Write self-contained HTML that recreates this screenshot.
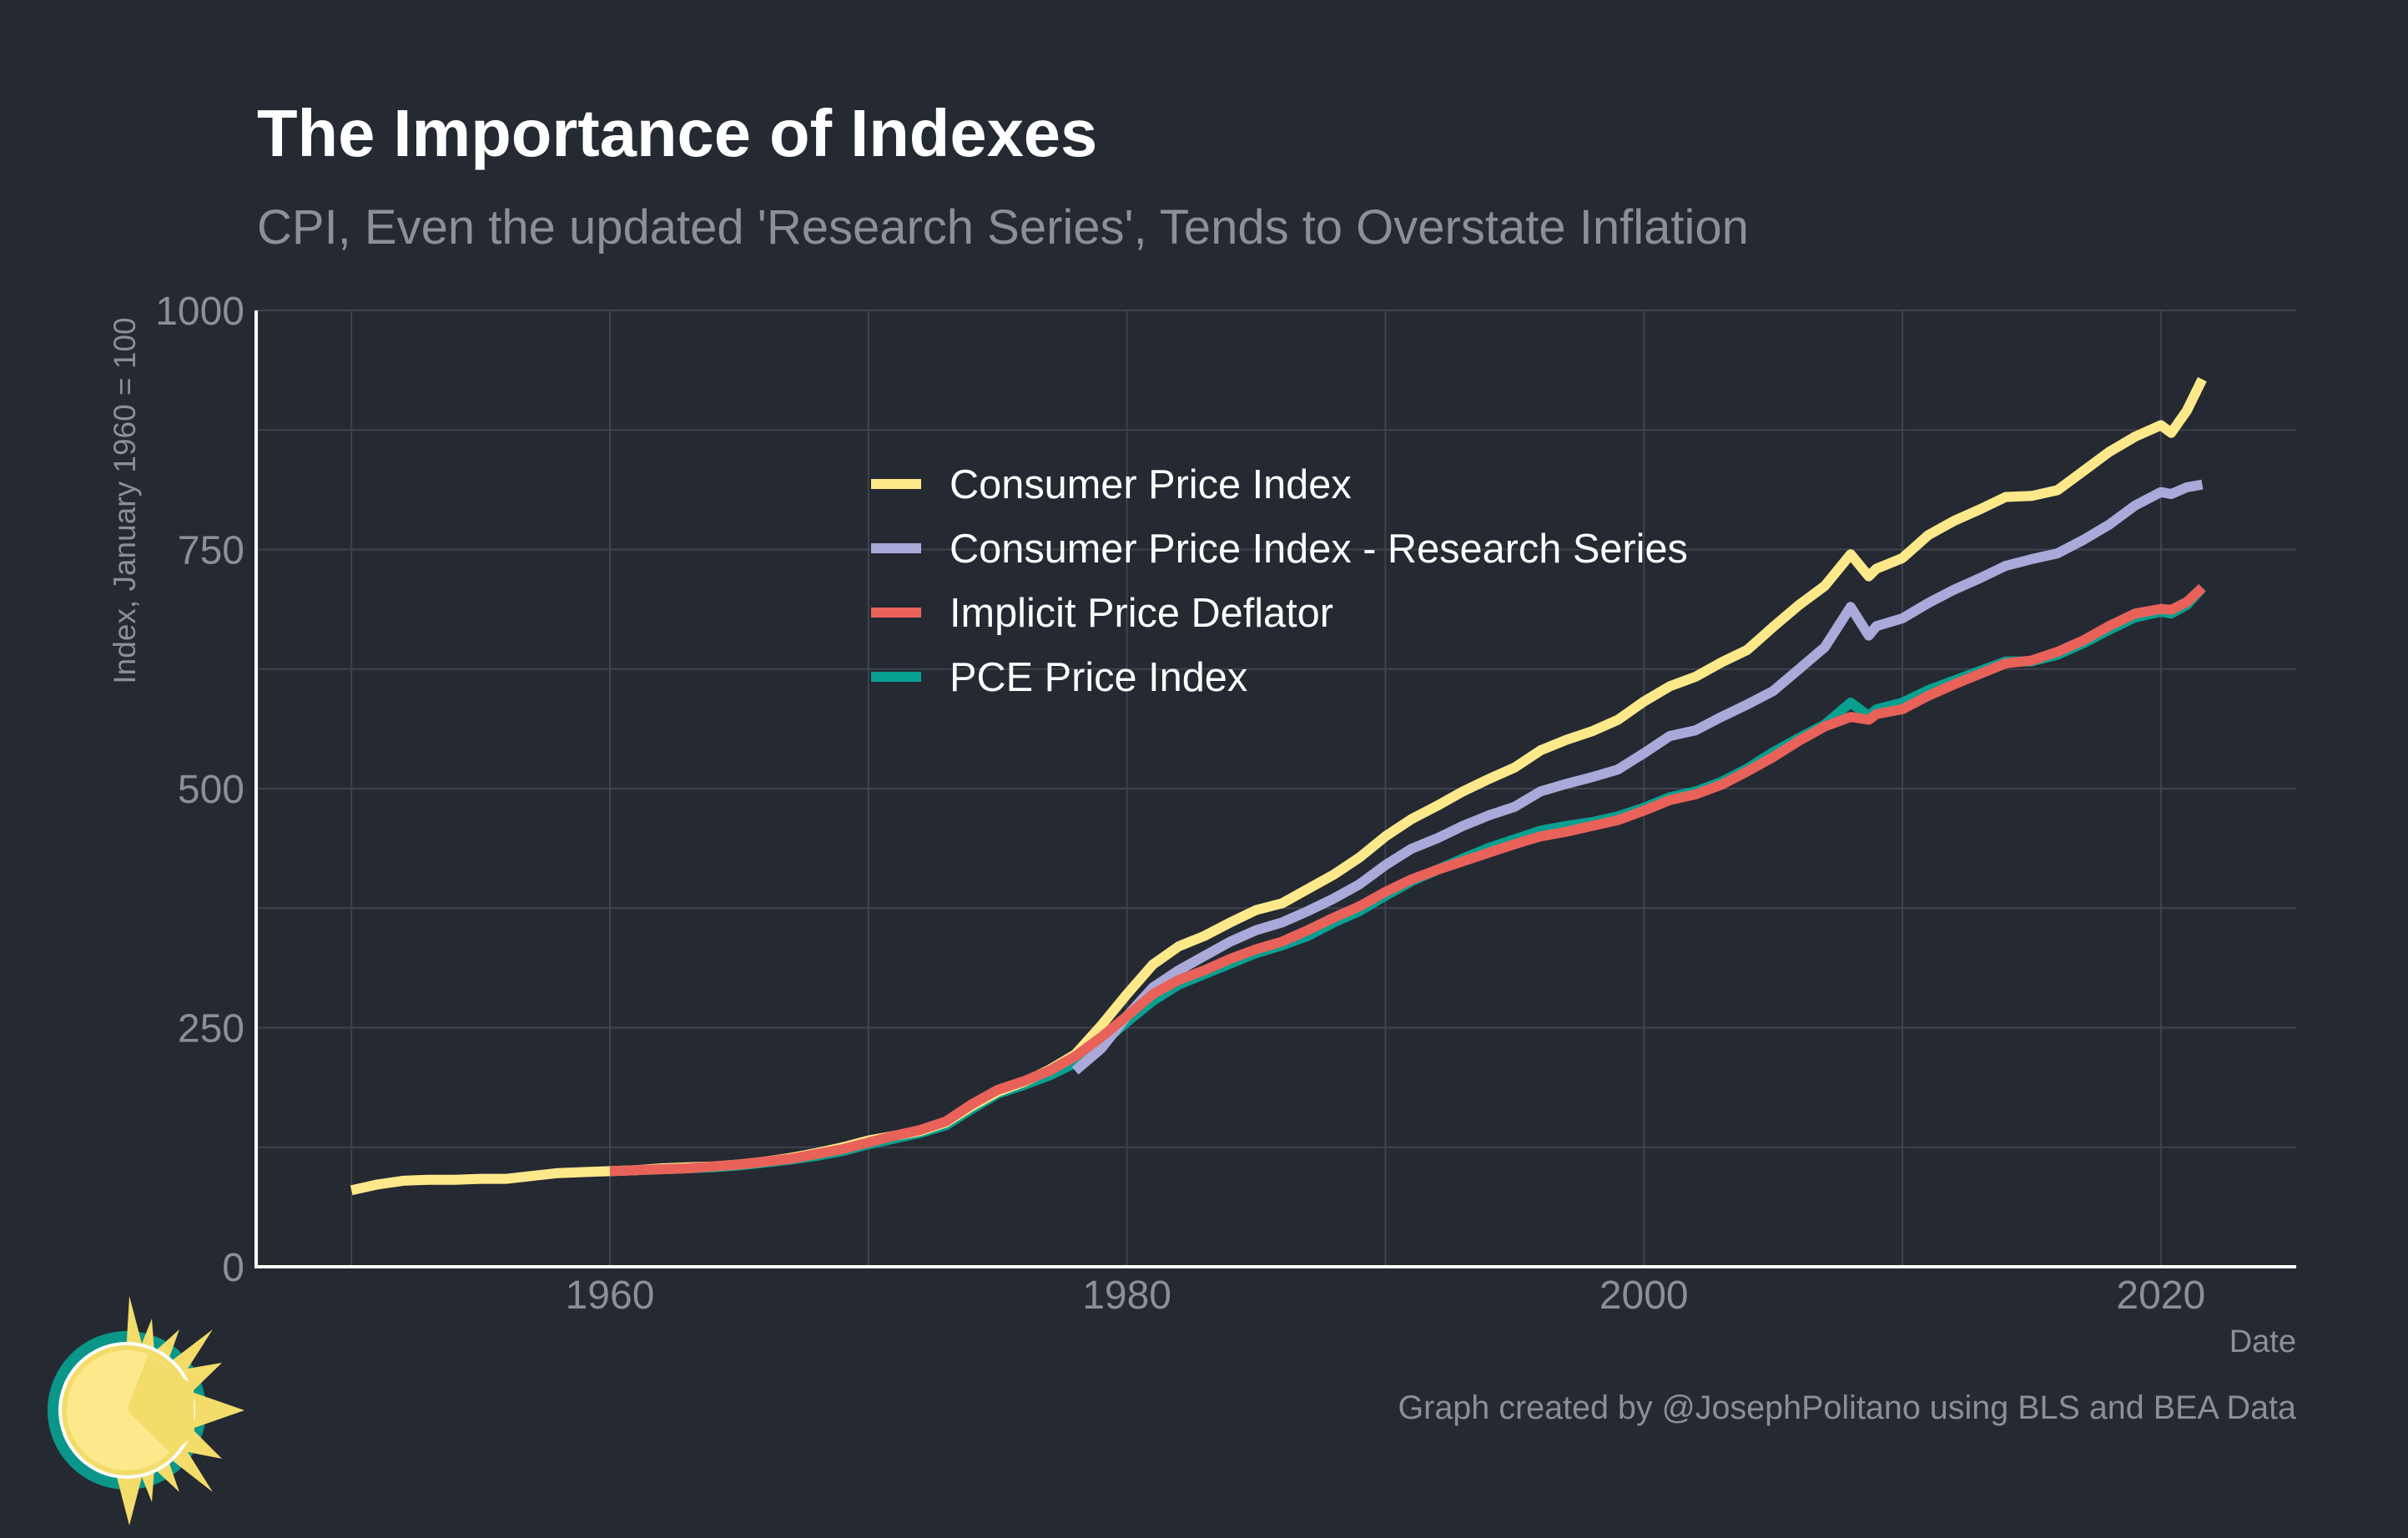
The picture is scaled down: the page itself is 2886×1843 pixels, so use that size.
<!DOCTYPE html>
<html><head><meta charset="utf-8"><style>
html,body{margin:0;padding:0;background:#252932;}
svg{display:block;font-family:"Liberation Sans",sans-serif;}
</style></head><body>
<svg width="2886" height="1843" viewBox="0 0 2886 1843" xmlns="http://www.w3.org/2000/svg">
<rect width="2886" height="1843" fill="#252932"/>
<text x="308" y="187" fill="#ffffff" font-size="79.5" font-weight="bold">The Importance of Indexes</text>
<text x="308" y="292" fill="#8d8f94" font-size="58">CPI, Even the updated 'Research Series', Tends to Overstate Inflation</text>
<g id="grid"></g>
<g id="series"></g>
<line x1="307" y1="372" x2="307" y2="1519" stroke="#fff" stroke-width="4"/>
<line x1="305" y1="1518" x2="2752" y2="1518" stroke="#fff" stroke-width="4"/>
<g id="yticks"></g>
<g id="xticks"></g>
<text x="162" y="600" fill="#8d8f94" font-size="37" text-anchor="middle" transform="rotate(-90 162 600)">Index, January 1960 = 100</text>
<text x="2752" y="1620" fill="#8d8f94" font-size="38" text-anchor="end">Date</text>
<text x="2752" y="1700" fill="#8d8f94" font-size="39.5" text-anchor="end">Graph created by @JosephPolitano using BLS and BEA Data</text>
<g id="legend"></g>
<g>
<circle cx="152" cy="1690" r="95" fill="#0a978a"/>
<polygon points="155,1553 170,1610 182,1580 185,1620 215,1593 200,1635 255,1593 225,1640 266,1633 230,1668 293,1690 230,1712 266,1748 225,1740 255,1788 200,1745 215,1788 185,1760 182,1800 170,1770 155,1828 140,1770 150,1640" fill="#f3dc6a"/>
<circle cx="152" cy="1690" r="82" fill="#fff"/>
<circle cx="152" cy="1690" r="78" fill="#f3dc6a"/>
<circle cx="152" cy="1690" r="72" fill="#fde88c"/>
<polygon points="152,1690 178,1622 232,1660 233,1720 205,1742" fill="#f3dc6a"/>
</g>
<script>
const years=[1950,1951,1952,1953,1954,1955,1956,1957,1958,1959,1960,1961,1962,1963,1964,1965,1966,1967,1968,1969,1970,1971,1972,1973,1974,1975,1976,1977,1978,1979,1980,1981,1982,1983,1984,1985,1986,1987,1988,1989,1990,1991,1992,1993,1994,1995,1996,1997,1998,1999,2000,2001,2002,2003,2004,2005,2006,2007,2008,2008.7,2009,2010,2011,2012,2013,2014,2015,2016,2017,2018,2019,2020,2020.4,2021,2021.6];
const cpi=[80,86,90,91,91,92,92,95,98,99,100,101,103,104,105,107,110,114,119,125,132,137,142,151,168,183,193,206,222,252,285,316,335,346,360,373,380,395,410,428,450,468,482,497,510,522,540,551,560,572,591,607,617,632,645,669,692,712,745,722,730,741,765,780,792,805,806,812,832,852,868,880,872,895,928];
const rs=[null,null,null,null,null,null,null,null,null,null,null,null,null,null,null,null,null,null,null,null,null,null,null,null,null,null,null,null,205,228,262,292,310,325,340,352,360,372,385,400,420,437,448,461,472,481,497,505,512,520,537,555,561,575,588,602,625,648,690,660,670,678,694,708,720,733,740,746,760,776,796,810,808,815,818];
const ipd=[null,null,null,null,null,null,null,null,null,null,100,101,102,103,105,107,110,113,118,123,130,137,143,152,170,185,194,205,220,240,262,285,300,310,322,332,340,352,365,377,392,405,415,424,433,442,450,455,461,467,477,488,494,504,518,533,550,565,575,572,578,583,597,609,620,631,634,643,655,670,683,688,687,695,710];
const pce=[null,null,null,null,null,null,null,null,null,null,100,101,102,103,104,106,109,112,116,121,128,134,140,148,165,181,190,200,213,233,256,278,295,306,317,328,336,346,360,372,388,403,415,427,438,447,456,461,465,471,480,491,497,507,521,538,553,567,590,576,583,590,603,613,623,633,633,640,652,666,679,685,683,692,710];
const yTickVals=[0,250,500,750,1000];
const yGridVals=[125,375,625,875];
const xTickVals=[1960,1980,2000,2020];
const xGridVals=[1950,1970,1990,2010];
const legendLabels=["Consumer Price Index","Consumer Price Index - Research Series","Implicit Price Deflator","PCE Price Index"];
const colors=["#fde98a","#a9aad9","#e8625a","#08a090"];
const NS="http://www.w3.org/2000/svg";
function xs(y){return 731+(y-1960)*30.98;}
function ys(v){return 1518-v*1.146;}
function mk(tag,attrs,parent){const e=document.createElementNS(NS,tag);for(const k in attrs)e.setAttribute(k,attrs[k]);parent.appendChild(e);return e;}
const grid=document.getElementById('grid');
yTickVals.concat(yGridVals).forEach(v=>{const l=mk('line',{x1:307,x2:2752,y1:ys(v),y2:ys(v),stroke:'#3e434d','stroke-width':2},grid);

});
xTickVals.concat(xGridVals).forEach(v=>{const l=mk('line',{x1:xs(v),x2:xs(v),y1:372,y2:1518,stroke:'#3e434d','stroke-width':2},grid);

});
const yt=document.getElementById('yticks');
yTickVals.forEach(v=>{const t=mk('text',{x:293,y:ys(v)+17,fill:'#8d8f94','font-size':48,'text-anchor':'end'},yt);t.textContent=v;

});
const xt=document.getElementById('xticks');
xTickVals.forEach(v=>{const t=mk('text',{x:xs(v),y:1568,fill:'#8d8f94','font-size':48,'text-anchor':'middle'},xt);t.textContent=v;

});
const sg=document.getElementById('series');
[[pce,3],[rs,1],[cpi,0],[ipd,2]].forEach(([arr,ci])=>{let d='';let started=false;
arr.forEach((v,i)=>{if(v==null)return;d+=(started?'L':'M')+xs(years[i]).toFixed(1)+','+ys(v).toFixed(1);started=true;});
const p=mk('path',{d:d,fill:'none',stroke:colors[ci],'stroke-width':12,'stroke-linejoin':'round'},sg);

});
const lg=document.getElementById('legend');
legendLabels.forEach((s,i)=>{const y=580+i*77;
const l=mk('line',{x1:1044,x2:1104,y1:y,y2:y,stroke:colors[i],'stroke-width':12},lg);


const t=mk('text',{x:1138,y:y+17,fill:'#ffffff','font-size':48.7},lg);t.textContent=s;

});
</script>
</svg>
</body></html>
